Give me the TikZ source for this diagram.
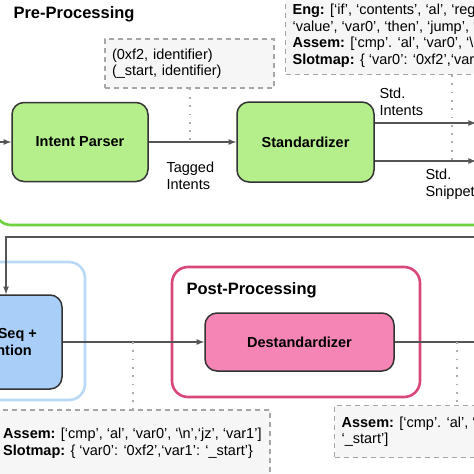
\documentclass[tikz,border=0pt]{standalone}
\usepackage{fontspec}
\setmainfont{Liberation Sans}
\usetikzlibrary{shapes.geometric, arrows}

\definecolor{stepgreen}{HTML}{B4EF8C}
\definecolor{framegreen}{HTML}{6DD23C}
\definecolor{stepblue}{HTML}{A9CFF8}
\definecolor{frameblue}{HTML}{B9D9F7}
\definecolor{steppink}{HTML}{F585B5}
\definecolor{framepink}{HTML}{D8467B}
\definecolor{wire}{HTML}{555555}

\begin{document}
\begin{tikzpicture}[x=1pt, y=-1pt,
    every node/.style={font=\fontsize{14.5}{16.5}\selectfont},
    stepbox/.style={rectangle, rounded corners=12pt, draw=black!80, line width=1.5pt, text centered, font=\fontsize{14.5}{16.5}\selectfont\bfseries},
    frame/.style={rounded corners=16pt, line width=2.6pt},
    samplebox/.style={rectangle, draw=gray!70, dash pattern=on 5pt off 4pt, line width=1.2pt, fill=gray!7, align=left},
    title/.style={anchor=west, font=\fontsize{16.5}{18}\selectfont\bfseries},
    arrow/.style={-latex, draw=wire, line width=1.6pt},
    dotline/.style={draw=gray!65, line width=1.8pt, dash pattern=on 1.8pt off 6.5pt}]

    \clip (0,0) rectangle (474,474);

    % group frames
    \draw[frame, framegreen] (-5,-30) rectangle (500,225);
    \draw[frame, frameblue] (-120,262) rectangle (85,400);
    \draw[frame, framepink] (172,267) rectangle (420,397);

    \node (pretitle) [title] at (10,14) {Pre-Processing};
    \node (posttitle) [title] at (183,290) {Post-Processing};

    % pipeline steps
    \node (parser) [stepbox, fill=stepgreen, minimum width=136pt, minimum height=79pt] at (80,142) {Intent Parser};
    \node (standardizer) [stepbox, fill=stepgreen, minimum width=137pt, minimum height=80pt] at (305.5,142) {Standardizer};
    \node (seqseq) [stepbox, fill=stepblue, minimum width=124pt, minimum height=94pt, align=center] at (0,342) {Seq2Seq +\\Attention};
    \node (destd) [stepbox, fill=steppink, minimum width=189pt, minimum height=58pt] at (299.5,342) {Destandardizer};

    % samples
    \node (tokens) [samplebox, minimum width=169pt, minimum height=49pt, text width=155pt, inner xsep=7pt] at (189.5,63.5) {(0xf2, identifier)\\(\_start, identifier)};
    \node (example) [samplebox, anchor=south west, inner sep=7pt] at (285,75) {\textbf{Eng:} [‘if’, ‘contents’, ‘al’, ‘register’, ‘equal’,\\‘value’, ‘var0’, ‘then’, ‘jump’, ‘var1’]\\\textbf{Assem:} [‘cmp’. ‘al’, ‘var0’, ‘\textbackslash n’, ‘jz’, ‘var1’]\\\textbf{Slotmap:} \{ ‘var0’: ‘0xf2’,‘var1’: ‘\_start’\}};
    \coordinate (predictedtop) at (133,410);
    \draw[samplebox] (-12,410) rectangle (270,480);
    \node (predicted) [anchor=west, align=left, inner sep=0pt] at (3,443) {\textbf{Assem:} [‘cmp’, ‘al’, ‘var0’, ‘\textbackslash n’,‘jz’, ‘var1’]\\\textbf{Slotmap:} \{ ‘var0’: ‘0xf2’,‘var1’: ‘\_start’\}};
    \node (output) [samplebox, anchor=north west, minimum height=52pt, inner xsep=7pt] at (334,405) {\textbf{Assem:} [‘cmp’. ‘al’, ‘0xf2’, ‘\textbackslash n’, ‘jz’,\\‘\_start’]};

    % edge labels
    \node (tagged) [anchor=west, align=left] at (163,176) {Tagged\\Intents};
    \node (stdintents) [anchor=west, align=left] at (376,102) {Std.\\Intents};
    \node (stdsnippet) [anchor=west, align=left] at (422,184) {Std.\\Snippets};

    \coordinate (input) at (-5,142);
    \coordinate (intentsout) at (476,123);
    \coordinate (snippetout) at (476,161);
    \coordinate (feedright) at (490,237);
    \coordinate (feedleft) at (6,237);
    \coordinate (finalout) at (490,342);

    % connectors
    \draw[arrow] (input) -- (parser);
    \draw[arrow] (parser) -- (standardizer);
    \draw[arrow] (standardizer.east |- intentsout) -- (intentsout);
    \draw[arrow] (standardizer.east |- snippetout) -- (snippetout);
    \draw[arrow] (feedright) -- (feedleft) -- (feedleft |- seqseq.north);
    \draw[arrow] (seqseq) -- (destd);
    \draw[arrow] (destd) -- (finalout);

    % dotted leaders
    \coordinate (lead1) at (190,142);
    \coordinate (lead2) at (452,161);
    \coordinate (lead3) at (133,342);
    \coordinate (lead4) at (457,342);
    \draw[dotline] (lead1 |- tokens.south) -- (lead1);
    \draw[dotline] (lead2 |- example.south) -- (lead2);
    \draw[dotline] (lead3) -- (predictedtop);
    \draw[dotline] (lead4) -- (lead4 |- output.north);

\end{tikzpicture}
\end{document}
